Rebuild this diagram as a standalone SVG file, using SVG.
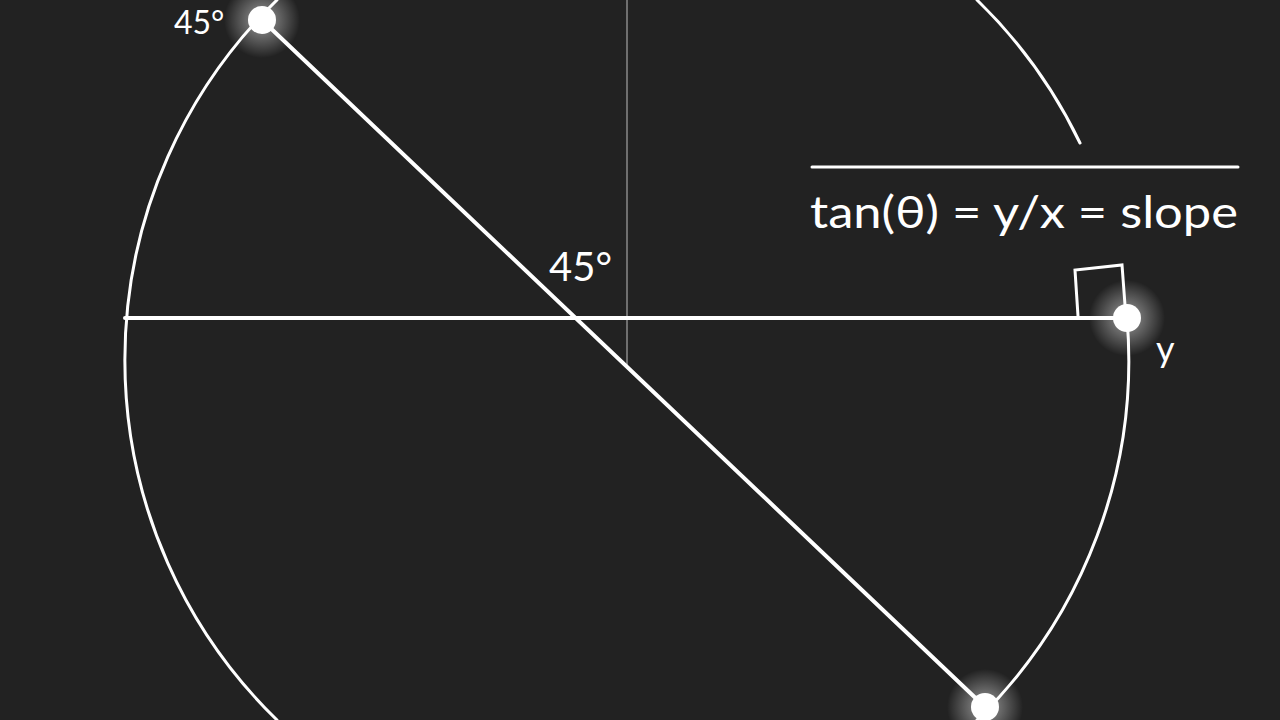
<svg xmlns="http://www.w3.org/2000/svg" width="1280" height="720" viewBox="0 0 1280 720">
<defs>
<radialGradient id="glow">
<stop offset="0" stop-color="#ffffff" stop-opacity="0.55"/>
<stop offset="1" stop-color="#ffffff" stop-opacity="0"/>
</radialGradient>
<style>
.ln{stroke:#ffffff;fill:none;stroke-linecap:round}
.t{fill:#ffffff;font-family:Lato,"Open Sans","Liberation Sans",sans-serif}
.dot{fill:#ffffff}
</style>
</defs>
<rect width="1280" height="720" fill="#222222"/>
<g id="circle">
<path class="ln" stroke-width="3" d="M 277 0 A 502 502 0 0 0 277 720"/>
<path class="ln" stroke-width="3" d="M 977 0 A 502 502 0 0 1 1080 143"/>
<path class="ln" stroke-width="3" d="M 1127 318 A 502 502 0 0 1 977 720"/>
</g>
<g id="connectors">
<line x1="627" y1="0" x2="627" y2="365" stroke="#8a8a8a" stroke-width="1.5"/>
<line class="ln" x1="125" y1="318" x2="1127" y2="318" stroke-width="4"/>
<line class="ln" x1="262" y1="20" x2="985" y2="707" stroke-width="4"/>
<line class="ln" x1="812" y1="167" x2="1238" y2="167" stroke-width="3"/>
<path class="ln" stroke-width="3" stroke-linecap="butt" d="M 1078 316 L 1075 270 L 1122 265 L 1125 305"/>
</g>
<g id="node-top">
<circle cx="262" cy="20" r="38" fill="url(#glow)"/>
<circle class="dot" cx="262" cy="20" r="14"/>
<text class="t" x="174" y="34" font-size="32">45°</text>
</g>
<g id="node-right">
<circle cx="1127" cy="318" r="38" fill="url(#glow)"/>
<circle class="dot" cx="1127" cy="318" r="14"/>
<text class="t" x="1156" y="362" font-size="36">y</text>
</g>
<g id="node-bottom">
<circle cx="985" cy="707" r="38" fill="url(#glow)"/>
<circle class="dot" cx="985" cy="707" r="14"/>
</g>
<g id="label-center">
<text class="t" x="549" y="281" font-size="40">45°</text>
</g>
<g id="formula">
<text class="t" x="810" y="228" font-size="45" textLength="428" lengthAdjust="spacingAndGlyphs">tan(θ) = y/x = slope</text>
</g>
</svg>
